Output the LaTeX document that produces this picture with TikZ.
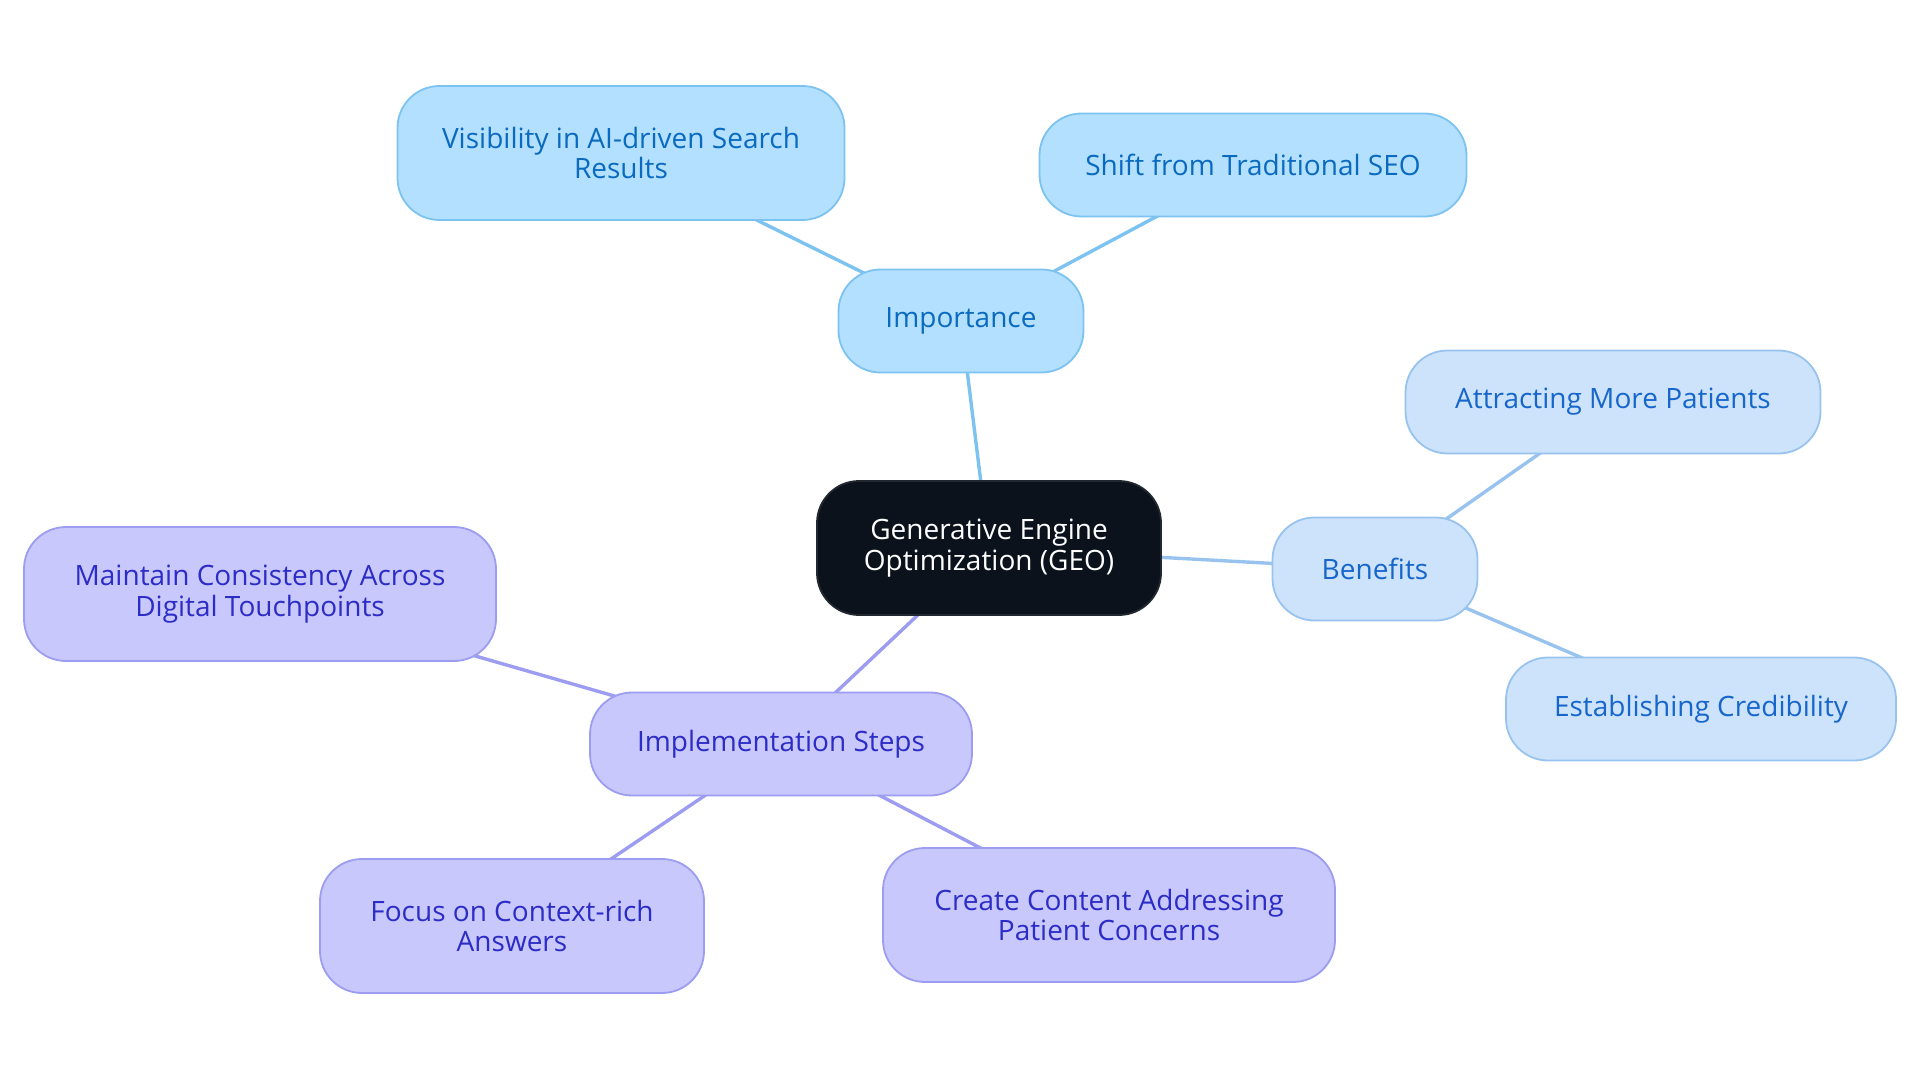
\documentclass[tikz,border=0pt]{standalone}
\usepackage{fontspec}
\setmainfont{Open Sans}
\usepackage{tikz}
\usetikzlibrary{backgrounds}
\definecolor{geoDark}{HTML}{0C121C}
\definecolor{impFill}{HTML}{B3E0FF}
\definecolor{impLine}{HTML}{7CC3F1}
\definecolor{impText}{HTML}{0A6ABF}
\definecolor{benFill}{HTML}{CDE3FB}
\definecolor{benLine}{HTML}{98C3EE}
\definecolor{benText}{HTML}{1766CC}
\definecolor{stepFill}{HTML}{C8C8FD}
\definecolor{stepLine}{HTML}{9C9CF0}
\definecolor{stepText}{HTML}{2C2CC6}
\tikzset{
	pill/.style={draw, line width=1.8pt, rounded corners=42pt, align=center,
		inner xsep=0pt, inner ysep=0pt, minimum height=103pt,
		font=\fontsize{28}{30.6}\selectfont},
	twoline/.style={minimum height=134pt},
	geo/.style={pill, fill=geoDark, draw=geoDark!80!gray, text=white},
	imp/.style={pill, fill=impFill, draw=impLine, text=impText},
	ben/.style={pill, fill=benFill, draw=benLine, text=benText},
	impl/.style={pill, fill=stepFill, draw=stepLine, text=stepText},
	link/.style={line width=3.4pt}
}
\begin{document}
\begin{tikzpicture}[x=1pt,y=-1pt]
	\useasboundingbox (0,0) rectangle (1920,1083);
	%%%nodes
	%root
	\node[geo, twoline, minimum width=344pt] at (989,548) (GEO){Generative Engine\\Optimization (GEO)};
	%importance branch
	\node[imp, minimum width=245pt] at (961,321) (Imp){Importance};
	\node[imp, twoline, minimum width=447pt] at (621,153) (ImpVis){Visibility in AI-driven Search\\Results};
	\node[imp, minimum width=427pt] at (1253,165) (ImpSEO){Shift from Traditional SEO};
	%benefits branch
	\node[ben, minimum width=205pt] at (1375,569) (Ben){Benefits};
	\node[ben, minimum width=415pt] at (1613,402) (BenPat){Attracting More Patients};
	\node[ben, minimum width=390pt] at (1701,709) (BenCred){Establishing Credibility};
	%implementation branch
	\node[impl, minimum width=382pt] at (781,744) (Impl){Implementation Steps};
	\node[impl, twoline, minimum width=472pt] at (260,594) (ImplCons){Maintain Consistency Across\\Digital Touchpoints};
	\node[impl, twoline, minimum width=384pt] at (512,926) (ImplFocus){Focus on Context-rich\\Answers};
	\node[impl, twoline, minimum width=452pt] at (1109,915) (ImplCont){Create Content Addressing\\Patient Concerns};
	%%%links (behind the nodes, centre to centre)
	\begin{pgfonlayer}{background}
	%level 1
	\draw[link, impLine] (GEO.center) -- (Imp.center);
	\draw[link, benLine] (GEO.center) -- (Ben.center);
	\draw[link, stepLine] (GEO.center) -- (Impl.center);
	%level 2
	\draw[link, impLine] (Imp.center) -- (ImpVis.center);
	\draw[link, impLine] (Imp.center) -- (ImpSEO.center);
	\draw[link, benLine] (Ben.center) -- (BenPat.center);
	\draw[link, benLine] (Ben.center) -- (BenCred.center);
	\draw[link, stepLine] (Impl.center) -- (ImplCons.center);
	\draw[link, stepLine] (Impl.center) -- (ImplFocus.center);
	\draw[link, stepLine] (Impl.center) -- (ImplCont.center);
	\end{pgfonlayer}
\end{tikzpicture}
\end{document}
